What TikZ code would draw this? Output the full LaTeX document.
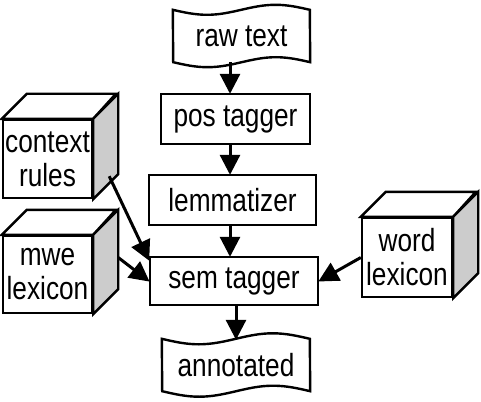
\documentclass[tikz,border=0pt]{standalone}
\usepackage{fontspec}
\setmainfont[FakeStretch=0.82]{Liberation Sans}
\usetikzlibrary{arrows.meta,calc}
\definecolor{sidegray}{gray}{0.8}
\tikzset{
  boxline/.style={line width=2.4pt, line join=miter},
  procbox/.style={boxline, draw, rectangle, inner sep=0pt, align=center,
    font=\fontsize{32}{34}\selectfont},
  tapetext/.style={rectangle, inner sep=0pt, align=center,
    font=\fontsize{32}{34}\selectfont},
  cubefront/.style={procbox, fill=white, minimum width=89pt, minimum height=78pt},
  arr/.style={line width=3pt, -{Triangle[length=20pt,width=20pt]}, shorten >=-1pt},
}
\newcommand\tapepath[3]{% node, quarter width, amplitude
  \draw[boxline, fill=white] (#1.north west) sin ++(#2,#3) cos ++(#2,-#3) sin ++(#2,-#3) cos ++(#2,#3)
    -- (#1.south east) sin ++(-#2,-#3) cos ++(-#2,#3) sin ++(-#2,#3) cos ++(-#2,-#3) -- cycle;}
\newcommand\cubefaces[2]{% node, front width
  \draw[boxline, fill=white] (#1.north west) -- ++(25,-25) -- ++(#2,0) -- (#1.north east) -- cycle;
  \draw[boxline, fill=sidegray] (#1.north east) -- ++(25,-25) -- ($(#1.south east)+(25,-25)$) -- (#1.south east) -- cycle;}
\begin{document}
\begin{tikzpicture}[x=1pt,y=-1pt]
\useasboundingbox (0,0) rectangle (481,401);

% tape shapes
\node[tapetext, minimum width=137pt, minimum height=52pt] (raw) at (241.5,36) {};
\tapepath{raw}{34.25}{5}
\node[tapetext] at (raw.center) {raw text};

\node[tapetext, minimum width=148pt, minimum height=52pt] (ann) at (236,365) {};
\tapepath{ann}{37}{5.5}
\node[tapetext] at (ann.center) {annotated};

% process boxes
\node[procbox, minimum width=149pt, minimum height=50pt] (pos) at (235.5,119) {pos tagger};
\node[procbox, minimum width=167pt, minimum height=50pt] (lem) at (232.5,200) {lemmatizer};
\node[procbox, minimum width=168pt, minimum height=48pt] (sem) at (234,281) {sem tagger};

% cubes
\node[cubefront] (ctx) at (47.5,159) {context\\rules};
\cubefaces{ctx}{89}
\node[cubefront, minimum height=77pt] (mwe) at (47.5,274.5) {mwe\\lexicon};
\cubefaces{mwe}{89}
\node[cubefront, minimum width=90pt, minimum height=79pt] (word) at (407,257.5) {word\\lexicon};
\cubefaces{word}{90}

% connector anchor points
\coordinate (ctxout) at ($(ctx.south east)+(16,-23)$);
\coordinate (mweout) at ($(mwe.east)+(25,-17)$);
\coordinate (semtl) at ($(sem.north west)+(0,4)$);

% vertical arrows
\draw[arr] (raw.south -| 230,0) -- (pos.north -| 230,0);
\draw[arr] (pos.south -| 230,0) -- (lem.north -| 230,0);
\draw[arr] (lem.south -| 230,0) -- (sem.north -| 230,0);
\draw[arr] (sem.south -| 236,0) -- (ann.north -| 236,0);

% side arrows
\draw[arr] (ctxout) -- (semtl);
\draw[arr] (mweout) -- (sem.west);
\draw[arr] (word.west) -- (sem.east);
\end{tikzpicture}
\end{document}
